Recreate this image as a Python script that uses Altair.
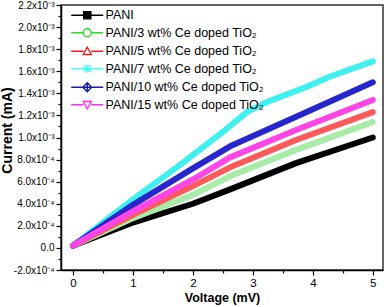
import altair as alt
import pandas as pd

# Sample names
series = [
    "PANI",
    "PANI/3 wt% Ce doped TiO₂",
    "PANI/5 wt% Ce doped TiO₂",
    "PANI/7 wt% Ce doped TiO₂",
    "PANI/10 wt% Ce doped TiO₂",
    "PANI/15 wt% Ce doped TiO₂",
]

# I-V readings: voltage (mV) and current (mA)
v_pani = [0.0, 1.0, 2.0, 2.62, 3.73, 5.0]
i_pani = [0.00002, 0.00023, 0.00040, 0.00053, 0.00077, 0.00100]

v_ce3 = [0.0, 1.0, 2.0, 2.62, 3.73, 5.0]
i_ce3 = [0.00002, 0.00027, 0.00048, 0.00065, 0.00089, 0.00114]

v_ce5 = [0.0, 1.0, 2.0, 2.62, 3.73, 5.0]
i_ce5 = [0.00002, 0.00030, 0.00056, 0.00073, 0.00098, 0.00123]

v_ce7 = [0.0, 1.0, 1.78, 2.5, 2.9, 3.23, 3.9, 4.28, 5.0]
i_ce7 = [0.00002, 0.00044, 0.00075, 0.00105, 0.00123, 0.00132, 0.00146, 0.00155, 0.00169]

v_ce10 = [0.0, 1.0, 2.0, 2.62, 3.73, 5.0]
i_ce10 = [0.00002, 0.00039, 0.00072, 0.00092, 0.00119, 0.00150]

v_ce15 = [0.0, 1.0, 2.0, 2.62, 3.73, 5.0]
i_ce15 = [0.00002, 0.00033, 0.00062, 0.00082, 0.00107, 0.00134]

# Axis ticks
x_major = [0, 1, 2, 3, 4, 5]
x_minor = [0.5, 1.5, 2.5, 3.5, 4.5]
y_major = [round(-0.0002 + 0.0002 * k, 5) for k in range(13)]
y_minor = [round(-0.0001 + 0.0002 * k, 5) for k in range(12)]

# Colours: band colours for the curves, pure colours for the legend keys
band_colors = ["#000000", "#a6eba6", "#ff5a5a", "#3ff0f0", "#2626cc", "#ff45e6"]
key_colors = ["#000000", "#22e022", "#ee1c1c", "#40ffff", "#1a1aa8", "#ff2aff"]
key_fill = ["#000000", "white", "white", "white", "white", "white"]

# Legend keys: a short line with the marker in the middle
seg = "M-4,0H-1M1,0H4"
key_shapes = [
    seg + "M-0.9,-0.9H0.9V0.9H-0.9Z",
    seg + "M1,0A1,1 0 1,1 -1,0A1,1 0 1,1 1,0Z",
    seg + "M0,-1L1,0.8H-1Z",
    seg + "M-0.9,-0.9L0.9,0.9M-0.9,0.9L0.9,-0.9M0,-1V1M-1,0H1",
    seg + "M0,-1.1L1.1,0L0,1.1L-1.1,0ZM0,-1.1V1.1M-1.1,0H1.1",
    seg + "M0,1L1,-0.8H-1Z",
]

frames = []
for name, v, i in [
    (series[0], v_pani, i_pani),
    (series[1], v_ce3, i_ce3),
    (series[2], v_ce5, i_ce5),
    (series[3], v_ce7, i_ce7),
    (series[4], v_ce10, i_ce10),
    (series[5], v_ce15, i_ce15),
]:
    frames.append(pd.DataFrame({"series": name, "voltage": v, "current": i}))
df = pd.concat(frames, ignore_index=True)

FONT = "Liberation Sans"
x_scale = alt.Scale(domain=[-0.2, 5.17], nice=False, zero=False)
y_scale = alt.Scale(domain=[-0.0002, 0.0022], nice=False, zero=False)

y_label_expr = (
    "datum.value == 0 ? '0.0' : replace(abs(datum.value) >= 0.00099 ? "
    "format(datum.value * 1000, '.1f') + 'x10⁻³' : "
    "format(datum.value * 10000, '.1f') + 'x10⁻⁴', '−', '-')"
)

# The curve colour scale lists the series in reverse so that it stays a
# separate scale from the legend's stroke/fill/shape scales.
curves = alt.Chart(df).mark_line(strokeWidth=6, strokeCap="round", strokeJoin="round").encode(
    x=alt.X("voltage:Q", scale=x_scale,
            axis=alt.Axis(values=x_major, format="d", title="Voltage (mV)", tickSize=5,
                          orient="bottom", labelFontSize=11.5, labelPadding=2,
                          titleFontSize=12.5, titleFontWeight="bold", titlePadding=3)),
    y=alt.Y("current:Q", scale=y_scale,
            axis=alt.Axis(values=y_major, labelExpr=y_label_expr, title="Current (mA)",
                          orient="left", tickSize=5, labelFontSize=10, labelPadding=2,
                          titleFontSize=14, titleFontWeight="bold",
                          titleX=-47, titleY=125)),
    color=alt.Color("series:N",
                    scale=alt.Scale(domain=series[::-1], range=band_colors[::-1]),
                    legend=None),
    order=alt.Order("voltage:Q"),
    detail="series:N",
)

legend = alt.Legend(
    orient="none", legendX=20, legendY=4, title=None, symbolSize=64, symbolStrokeWidth=1.4,
    symbolOpacity=1, labelFont=FONT, labelFontSize=12.5, labelOffset=12, labelLimit=400,
    rowPadding=3.5, padding=0, labelColor="black",
)

# Legend keys and minor ticks; the layer itself draws no marks
keys = alt.Chart(df).transform_filter("datum.voltage < -100").mark_point(size=64, opacity=1).encode(
    x=alt.X("voltage:Q", scale=x_scale,
            axis=alt.Axis(values=x_minor, labels=False, domain=False, title=None,
                          tickSize=3, orient="bottom")),
    y=alt.Y("current:Q", scale=y_scale,
            axis=alt.Axis(values=y_minor, labels=False, domain=False, title=None,
                          tickSize=3, orient="left")),
    stroke=alt.Stroke("series:N", scale=alt.Scale(domain=series, range=key_colors), legend=legend),
    fill=alt.Fill("series:N", scale=alt.Scale(domain=series, range=key_fill), legend=legend),
    shape=alt.Shape("series:N", scale=alt.Scale(domain=series, range=key_shapes), legend=legend),
)

chart = (
    alt.layer(curves, keys)
    .resolve_axis(x="independent", y="independent")
    .properties(
        width=322, height=265,
        autosize=alt.AutoSizeParams(type="none"),
        padding={"left": 61, "top": 5, "right": 4, "bottom": 37},
        background="white",
    )
    .configure_view(stroke="#333333", strokeWidth=1.5)
    .configure_axis(
        labelFont=FONT, titleFont=FONT, labelColor="black", titleColor="black",
        domainColor="black", domainWidth=1.5, tickColor="black", tickWidth=1.2, grid=False,
    )
)

chart.save("out.html", embed_options={"renderer": "svg", "actions": False})
